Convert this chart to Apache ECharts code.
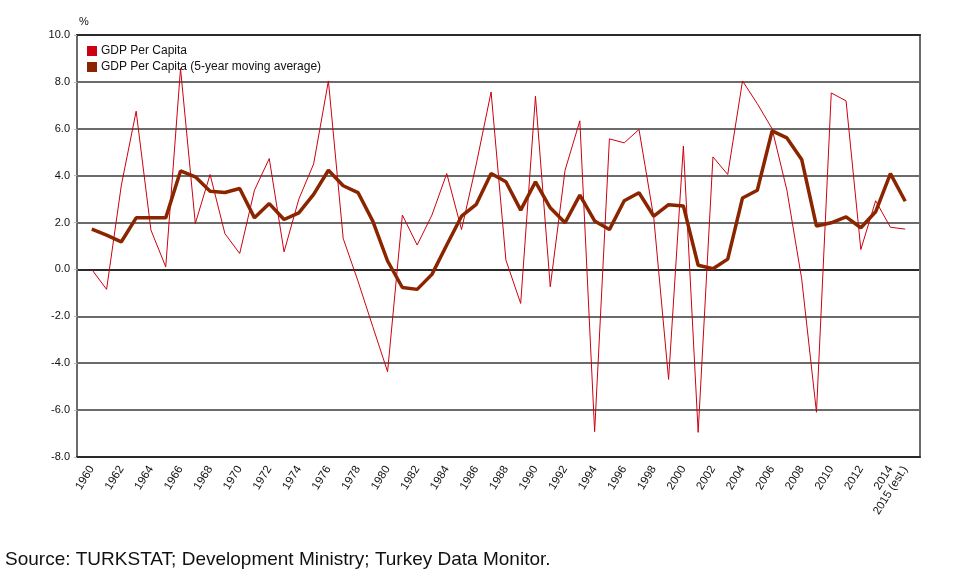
<!DOCTYPE html>
<html>
<head>
<meta charset="utf-8">
<script src="https://cdn.jsdelivr.net/npm/echarts@6/dist/echarts.min.js"></script>
<style>
  html, body { margin: 0; padding: 0; background: #fff; }
  #chart { width: 970px; height: 575px; }
</style>
</head>
<body>
<div id="chart"></div>
<script>
// years 1960..2015 (2015 is an estimate)
const years = [1960, 1961, 1962, 1963, 1964, 1965, 1966, 1967, 1968, 1969,
  1970, 1971, 1972, 1973, 1974, 1975, 1976, 1977, 1978, 1979,
  1980, 1981, 1982, 1983, 1984, 1985, 1986, 1987, 1988, 1989,
  1990, 1991, 1992, 1993, 1994, 1995, 1996, 1997, 1998, 1999,
  2000, 2001, 2002, 2003, 2004, 2005, 2006, 2007, 2008, 2009,
  2010, 2011, 2012, 2013, 2014, 2015]

// GDP per capita growth, %
const gdpPerCapita = [0.0, -0.85, 3.6, 6.75, 1.68, 0.11, 8.57, 1.96, 4.05, 1.53,
  0.68, 3.38, 4.73, 0.75, 3.0, 4.5, 8.04, 1.32, -0.5, -2.44,
  -4.36, 2.32, 1.04, 2.32, 4.09, 1.7, 4.5, 7.57, 0.4, -1.45,
  7.39, -0.74, 4.23, 6.34, -6.92, 5.57, 5.4, 5.97, 2.2, -4.69,
  5.26, -6.95, 4.8, 4.05, 8.04, 7.07, 6.0, 3.38, -0.4, -6.09,
  7.53, 7.19, 0.85, 2.93, 1.8, 1.72]

// 5-year moving average, %
const movingAvg = [1.72, 1.46, 1.18, 2.2, 2.2, 2.2, 4.2, 3.95, 3.34, 3.28,
  3.45, 2.2, 2.81, 2.13, 2.41, 3.2, 4.23, 3.57, 3.28, 2.06,
  0.36, -0.77, -0.85, -0.21, 1.04, 2.27, 2.78, 4.09, 3.74, 2.53,
  3.74, 2.63, 1.99, 3.17, 2.07, 1.7, 2.93, 3.27, 2.27, 2.76,
  2.71, 0.18, 0.03, 0.44, 3.05, 3.38, 5.91, 5.61, 4.69, 1.85,
  1.99, 2.24, 1.78, 2.46, 4.09, 2.91]

const yTicks = { min: -8, max: 10, step: 2 }
const lastLabel = '2015 (est.)'

const font = '"Liberation Sans", Arial, sans-serif'
const gridGray = '#6b6b6b'
const dark = '#2a2a2a'

// zero line drawn darker than the other grid lines
const splitColors = []
for (let v = yTicks.min; v <= yTicks.max; v += yTicks.step) {
  splitColors.push(v === 0 ? dark : gridGray)
}

var myChart = echarts.init(document.getElementById('chart'))

myChart.setOption({
  animation: false,
  textStyle: { fontFamily: font },
  grid: { left: 77, right: 50, top: 35, bottom: 118 },
  legend: {
    orient: 'vertical',
    left: 82,
    top: 40,
    itemWidth: 10,
    itemHeight: 10,
    itemGap: 4,
    icon: 'rect',
    textStyle: { fontFamily: font, fontSize: 12, color: '#111', padding: [0, 0, 0, -1] },
    data: ['GDP Per Capita', 'GDP Per Capita (5-year moving average)']
  },
  xAxis: [
    {
      type: 'value',
      min: 1959,
      max: 2016,
      interval: 1,
      splitLine: { show: false },
      axisTick: { show: false },
      axisLine: { onZero: false, lineStyle: { color: dark, width: 2 } },
      axisLabel: {
        rotate: 58,
        margin: 10,
        fontSize: 11.5,
        color: '#111',
        fontFamily: font,
        formatter: function (v) {
          if (v === 2015) return lastLabel
          if (v >= 1960 && v <= 2014 && v % 2 === 0) return String(v)
          return ''
        }
      }
    },
    {
      type: 'value',
      position: 'top',
      min: 1959,
      max: 2016,
      axisLine: { show: true, onZero: false, lineStyle: { color: dark, width: 2 } },
      axisTick: { show: false },
      axisLabel: { show: false },
      splitLine: { show: false }
    }
  ],
  yAxis: [
    {
      type: 'value',
      min: yTicks.min,
      max: yTicks.max,
      interval: yTicks.step,
      axisLine: { show: true, lineStyle: { color: gridGray, width: 2 } },
      axisTick: { show: true, length: 3, lineStyle: { color: '#bbb' } },
      axisLabel: {
        margin: 7,
        fontSize: 11,
        color: '#111',
        fontFamily: font,
        formatter: function (v) { return v.toFixed(1) }
      },
      splitLine: {
        lineStyle: { color: splitColors, width: 2 }
      }
    },
    {
      type: 'value',
      position: 'right',
      min: yTicks.min,
      max: yTicks.max,
      axisLine: { show: true, lineStyle: { color: gridGray, width: 2 } },
      axisTick: { show: false },
      axisLabel: { show: false },
      splitLine: { show: false }
    }
  ],
  graphic: [
    {
      type: 'text',
      left: 79,
      top: 16,
      style: { text: '%', font: '11px ' + font, fill: '#111' }
    },
    {
      type: 'text',
      left: 5,
      top: 550,
      style: {
        text: 'Source: TURKSTAT; Development Ministry; Turkey Data Monitor.',
        font: '19px ' + font,
        fill: '#111'
      }
    }
  ],
  series: [
    {
      name: 'GDP Per Capita',
      type: 'line',
      symbol: 'none',
      itemStyle: { color: '#cc0010' },
      lineStyle: { color: '#cc0010', width: 1 },
      data: years.map((y, i) => [y, gdpPerCapita[i]]),
      z: 3
    },
    {
      name: 'GDP Per Capita (5-year moving average)',
      type: 'line',
      symbol: 'none',
      itemStyle: { color: '#8b2500' },
      lineStyle: { color: '#8b2500', width: 3.5 },
      data: years.map((y, i) => [y, movingAvg[i]]),
      z: 4
    }
  ]
})
</script>
</body>
</html>
